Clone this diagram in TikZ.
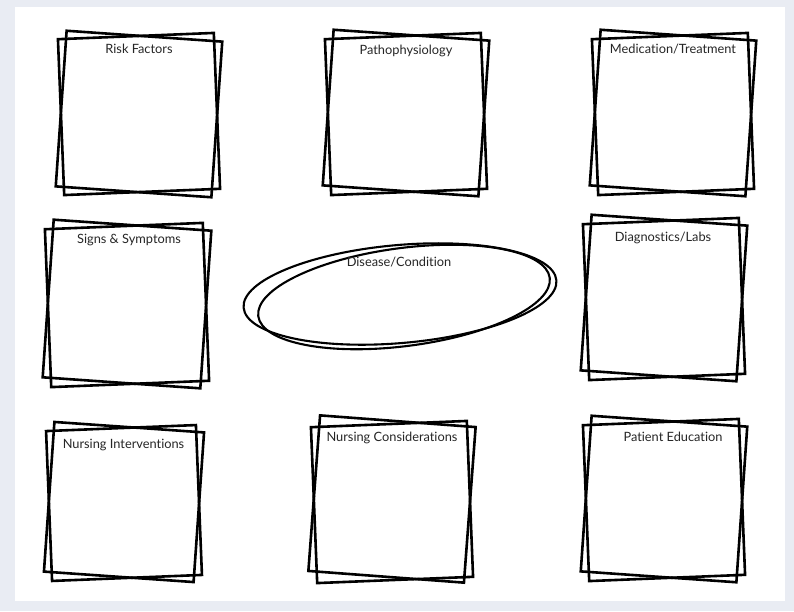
\documentclass[tikz,border=0pt]{standalone}
\usepackage{fontspec}
\setmainfont{Lato}[Ligatures={NoCommon,NoContextual}]
\usepackage{xcolor}
\usetikzlibrary{shapes.geometric}

\definecolor{pagebg}{HTML}{E9ECF3}
\definecolor{labelgray}{HTML}{262626}

\begin{document}
\begin{tikzpicture}[
            x = 1pt, y = -1pt, % pixel-like coordinates
            frame/.style = {draw = black, line width = 2.6pt, minimum size = 156pt, inner sep = 0pt},
            ring/.style = {shape = ellipse, draw = black, line width = 2.1pt, inner sep = 0pt},
            title/.style = {anchor = base, text = labelgray, inner sep = 0pt,
                font = \fontsize{12.8}{14}\selectfont}
        ]

        % page
        \fill[pagebg] (0,0) rectangle (794,611);
        \fill[white] (15,7) rectangle (785,601);

        % top row
        \node[frame, rotate=-4] (riskA) at (139,114) {};
        \node[frame, rotate=2.3] (riskB) at (139,114) {};
        \node[title] (risk) at (139,53.3) {Risk Factors};

        \node[frame, rotate=-4] (pathoA) at (406,113) {};
        \node[frame, rotate=2.3] (pathoB) at (406,114) {};
        \node[title] (patho) at (406,54) {Pathophysiology};

        \node[frame, rotate=-4] (medA) at (673,113) {};
        \node[frame, rotate=2.3] (medB) at (673,114) {};
        \node[title] (med) at (673,53.3) {Medication/Treatment};

        % middle row
        \node[frame, rotate=-4, minimum size=158pt] (signsA) at (127,304) {};
        \node[frame, rotate=2.3, minimum size=158pt] (signsB) at (127,305) {};
        \node[title] (signs) at (129,243.3) {Signs \& Symptoms};

        \node[ring, minimum width=314pt, minimum height=98pt, rotate=5] (diseaseA) at (400,294) {};
        \node[ring, minimum width=294pt, minimum height=98pt, rotate=7.5] (diseaseB) at (404,297) {};
        \node[title] (disease) at (399,266.7) {Disease/Condition};

        \node[frame, rotate=-4] (diagA) at (664,298) {};
        \node[frame, rotate=2.3] (diagB) at (664,299) {};
        \node[title] (diag) at (663,241.7) {Diagnostics/Labs};

        % bottom row
        \node[frame, rotate=-4, minimum size=150pt] (nintA) at (124,502) {};
        \node[frame, rotate=2.3, minimum size=150pt] (nintB) at (124,503) {};
        \node[title] (nint) at (123.5,448.3) {Nursing Interventions};

        \node[frame, rotate=-4.3] (nconA) at (392,499) {};
        \node[frame, rotate=2.3] (nconB) at (392,502) {};
        \node[title] (ncon) at (392,441.7) {Nursing Considerations};

        \node[frame, rotate=-4] (eduA) at (664,499) {};
        \node[frame, rotate=2.3] (eduB) at (664,500) {};
        \node[title] (edu) at (673,441.7) {Patient Education};
    \end{tikzpicture}
\end{document}
